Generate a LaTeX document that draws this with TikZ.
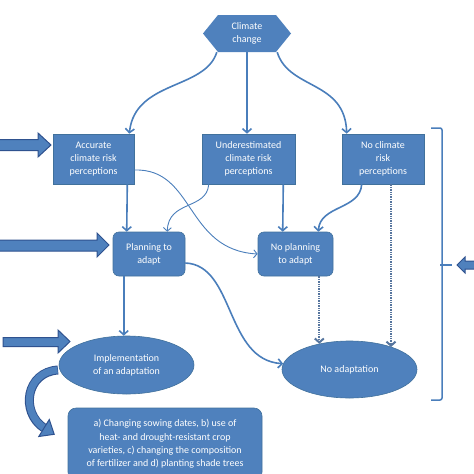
\documentclass[tikz,border=0pt]{standalone}
\usepackage{fontspec}
\setmainfont{Carlito}
\usetikzlibrary{shapes.geometric,arrows.meta,calc}
\definecolor{boxblue}{HTML}{4F81BD}
\definecolor{edgeblue}{HTML}{41719C}
\definecolor{linkblue}{HTML}{4A7EBB}
\definecolor{darkedge}{HTML}{2F528F}
\definecolor{dotblue}{HTML}{56759E}
\begin{document}
\begin{tikzpicture}[x=1pt,y=-1pt,
  every node/.style={font=\fontsize{10}{13.3}\selectfont, text=white, align=center},
  sqbox/.style={fill=boxblue, draw=edgeblue, line width=0.6pt, inner sep=0pt},
  rbox/.style={sqbox, rounded corners=6pt},
  oval/.style={ellipse, fill=boxblue, draw=edgeblue, line width=0.6pt, inner sep=0pt},
  link/.style={draw=linkblue, line width=1.6pt, -{Straight Barb[length=4pt,width=9pt]}},
  thinlink/.style={draw=linkblue, line width=0.9pt, -{Straight Barb[length=3.5pt,width=8pt]}},
  dotlink/.style={draw=dotblue, line width=2pt, dash pattern=on 1.4pt off 1pt, -{Straight Barb[length=4pt,width=9pt]}},
  fatarrow/.style={fill=boxblue, draw=darkedge, line width=1pt, line join=miter},
  bracket/.style={draw=linkblue, line width=1.5pt},
]
\useasboundingbox (0,0) rectangle (474,474);
\clip (0,0) rectangle (474,474);

% hexagon
\fill[boxblue] (203,33.5) -- (218,15) -- (276,15) -- (291,33.5) -- (276,52) -- (218,52) -- cycle;
\node[inner sep=0pt, minimum width=88, minimum height=37] (cc) at (247,33.5) {Climate\\change};

% boxes
\node[sqbox, minimum width=81, minimum height=50] (acc) at (93.5,159) {Accurate\\climate risk\\perceptions};
\node[sqbox, minimum width=93, minimum height=50] (und) at (248.5,159) {Underestimated\\climate risk\\perceptions};
\node[sqbox, minimum width=82, minimum height=50] (noc) at (383,159) {No climate\\risk\\perceptions};
\node[rbox, minimum width=72, minimum height=44] (plan) at (149,254) {Planning to\\adapt};
\node[rbox, minimum width=75, minimum height=44] (nplan) at (295.5,254) {No planning\\to adapt};
\node[oval, minimum width=135, minimum height=58] (impl) at (126.5,365) {Implementation\\of an adaptation};
\node[oval, minimum width=135, minimum height=57] (nad) at (349.5,369.5) {No adaptation};
\node[rbox, rounded corners=8pt, minimum width=194, minimum height=72] (ex) at (165,444)
  {a) Changing sowing dates, b) use of\\heat- and drought-resistant crop\\varieties, c) changing the composition\\of fertilizer and d) planting shade trees};

% connectors from climate change
\draw[link] ($(cc.south west)+(14,0)$) .. controls (205,90) and (135,80) .. ($(acc.north east)+(-5,0)$);
\draw[link] (cc.south) -- (cc.south |- und.north);
\draw[link] ($(cc.south east)+(-14,0)$) .. controls (289,90) and (345,80) .. ($(noc.north west)+(5,0)$);

% perceptions to planning
\draw[link] ($(acc.south east)+(-7,0)$) -- ($(plan.north west)+(14,0)$);
\draw[link] ($(und.south east)+(-12,0)$) -- ($(nplan.north west)+(25,0)$);
\draw[thinlink] ($(acc.east)+(0,11)$) .. controls (195,168) and (185,250) .. (nplan.west);
\draw[thinlink] ($(und.south west)+(7,0)$) .. controls (207,210) and (168,200) .. ($(plan.north east)+(-18,0)$);
\draw[link] ($(noc.south west)+(20,0)$) .. controls (360,210) and (320,205) .. ($(nplan.north east)+(-15,0)$);

% to adaptation
\coordinate (ncs) at ($(noc.south)+(8,0)$);
\draw[dotlink] (ncs) -- (ncs |- nad.28);
\coordinate (nps) at ($(nplan.south east)+(-14,0)$);
\draw[dotlink] (nps) -- (nps |- nad.140);
\coordinate (pls) at ($(plan.south west)+(11,0)$);
\draw[link] (pls) -- (pls |- impl.north);
\draw[link] ($(plan.east)+(0,9)$) .. controls (235,265) and (225,360) .. (nad.175);

% fat arrows on the left
\path[fatarrow] (-2,139.5) -- (38,139.5) -- (38,133) -- (51,145) -- (38,157) -- (38,150.5) -- (-2,150.5) -- cycle;
\path[fatarrow] (-2,240) -- (97,240) -- (97,233) -- (109,245) -- (97,257) -- (97,251) -- (-2,251) -- cycle;
\path[fatarrow] (3,337.5) -- (58,337.5) -- (58,330) -- (70,341.5) -- (58,353) -- (58,346.5) -- (3,346.5) -- cycle;
% fat arrow on the right
\path[fatarrow] (476,261) -- (465,261) -- (465,257) -- (457,265) -- (465,273) -- (465,269) -- (476,269) -- cycle;

% bracket
\draw[bracket, rounded corners=2pt] (431,128) -- (442,128) -- (442,400) -- (431,400);
\draw[bracket] (440,265) -- (452,265);

% curved fat arrow
\draw[darkedge, line width=9pt] (58,370) .. controls (26,372) and (20,412) .. (44,428);
\draw[boxblue, line width=7pt] (57.5,370) .. controls (26,372) and (20,412) .. (44.5,428.3);
\path[fatarrow] (49.3,419.5) -- (54.2,434.3) -- (38.8,436.5) -- cycle;
\end{tikzpicture}
\end{document}
